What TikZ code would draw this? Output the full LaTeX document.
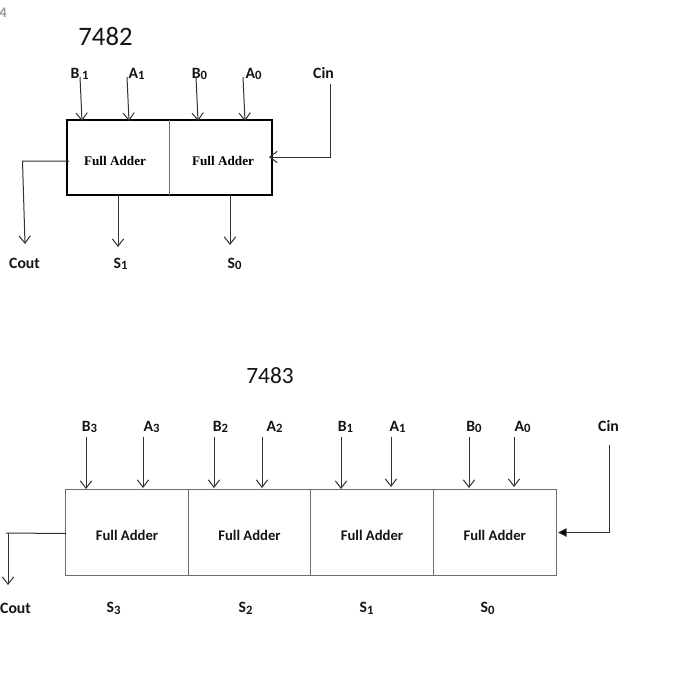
\documentclass[tikz,border=0pt]{standalone}
\usepackage{fontspec}
\setmainfont{Carlito}
\newfontfamily\serifbold{Liberation Serif}
\usetikzlibrary{arrows.meta}
\definecolor{edgegray}{RGB}{110,110,110}
\definecolor{wiregray}{RGB}{50,50,50}
\newcommand{\lowdig}[1]{\raisebox{-0.2ex}{\fontsize{9.5}{10}\selectfont #1}}
\tikzset{
  x=0.75pt,y=-0.75pt,
  lab/.style={inner sep=0pt,xshift=0.4pt,font=\fontsize{11.8}{13}\selectfont\bfseries,text=black!92},
  titlelab/.style={inner sep=0pt,text=black!92},
  oldbox/.style={draw=black,line width=1.5pt,minimum height=56.25pt,minimum width=153.75pt,inner sep=0pt,outer sep=0pt},
  oldtext/.style={inner sep=0pt,font=\serifbold\fontsize{9.9}{12}\selectfont\bfseries},
  newcell/.style={draw=edgegray,line width=0.75pt,minimum height=64.9pt,minimum width=92pt,inner sep=0pt,outer sep=0pt},
  newtext/.style={inner sep=0pt,yshift=-1.9pt,font=\fontsize{11}{13}\selectfont\bfseries,text=black!92},
  wire/.style={draw=wiregray,line width=0.75pt,-{Straight Barb[length=5.5pt,width=8.5pt,line width=0.75pt]}},
  solidwire/.style={draw=wiregray,line width=0.75pt,-{Triangle[length=6.5pt,width=6.5pt,fill=black]}},
  plainwire/.style={draw=wiregray,line width=0.75pt},
}
\begin{document}
\begin{tikzpicture}
\useasboundingbox (0,0) rectangle (678,700);
\fill[white] (0,0) rectangle (678,700);
\node[inner sep=0pt,text=black!40,font=\fontsize{11}{13}\selectfont\bfseries] (pg) at (3,13) {4};
% ---- 7482
\node[titlelab,font=\fontsize{20}{22}\selectfont] (t1) at (105.5,36.3) {7482};
\node[oldbox] (box) at (169.75,157.75) {};
\draw[edgegray,line width=0.75pt] (box.north) -- (box.south);
\node[oldtext] (fa1) at (115,160.5) {Full Adder};
\node[oldtext] (fa0) at (223,160.5) {Full Adder};
\node[lab] (b1) at (79,74) {B\,\lowdig{1}};
\node[lab] (a1) at (136,74) {A\lowdig{1}};
\node[lab] (b0) at (199,74) {B\lowdig{0}};
\node[lab] (a0) at (253,74) {A\lowdig{0}};
\node[lab] (cin) at (323,73) {Cin};
\node[lab] (cout) at (24,263.5) {Cout};
\node[lab] (s1) at (120,264) {S\lowdig{1}};
\node[lab] (s0) at (234,264) {S\lowdig{0}};
\coordinate (b1s) at (80,77); \coordinate (b1e) at (82,121);
\coordinate (a1s) at (127,77); \coordinate (a1e) at (129,121);
\coordinate (b0s) at (196,77); \coordinate (b0e) at (198,121);
\coordinate (a0s) at (243,77); \coordinate (a0e) at (245,121);
\draw[wire] (b1s) -- (b1e);
\draw[wire] (a1s) -- (a1e);
\draw[wire] (b0s) -- (b0e);
\draw[wire] (a0s) -- (a0e);
\coordinate (cinS) at (330,84); \coordinate (cinC) at (330,157); \coordinate (cinE) at (269,157);
\draw[wire] (cinS) -- (cinC) -- (cinE);
\coordinate (coS) at (69,161); \coordinate (coC) at (22.5,161); \coordinate (coE) at (25,244);
\draw[wire] (coS) -- (coC) -- (coE);
\coordinate (s1s) at (118,195); \coordinate (s1e) at (118,247);
\coordinate (s0s) at (230,195); \coordinate (s0e) at (230,245);
\draw[wire] (s1s) -- (s1e);
\draw[wire] (s0s) -- (s0e);
% ---- 7483
\node[titlelab,font=\fontsize{17.5}{20}\selectfont] (t2) at (270,375.7) {7483};
\node[newcell,label={[newtext]center:Full Adder}] (g3) at (127,532.7) {};
\node[newcell,label={[newtext]center:Full Adder}] (g2) at (249.5,532.7) {};
\node[newcell,label={[newtext]center:Full Adder}] (g1) at (372,532.7) {};
\node[newcell,label={[newtext]center:Full Adder}] (g0) at (494.7,532.7) {};
\node[lab] (lb3) at (89,427) {B\lowdig{3}};
\node[lab] (la3) at (151,427) {A\lowdig{3}};
\node[lab] (lb2) at (220,427) {B\lowdig{2}};
\node[lab] (la2) at (274,427) {A\lowdig{2}};
\node[lab] (lb1) at (345,427) {B\lowdig{1}};
\node[lab] (la1) at (397,427) {A\lowdig{1}};
\node[lab] (lb0) at (473.5,427) {B\lowdig{0}};
\node[lab] (la0) at (522,427) {A\lowdig{0}};
\node[lab] (lcin) at (608,426) {Cin};
\node[lab] (lcout) at (15,608) {Cout};
\node[lab] (ls3) at (113,608.5) {S\lowdig{3}};
\node[lab] (ls2) at (245,608.5) {S\lowdig{2}};
\node[lab] (ls1) at (366,608.5) {S\lowdig{1}};
\node[lab] (ls0) at (487,608.5) {S\lowdig{0}};
\coordinate (w1) at (86,437); \coordinate (w1e) at (86,489);
\coordinate (w2) at (143,437); \coordinate (w2e) at (143,488);
\coordinate (w3) at (214,437); \coordinate (w3e) at (214,488);
\coordinate (w4) at (262,437); \coordinate (w4e) at (262,488);
\coordinate (w5) at (341,437); \coordinate (w5e) at (341,489);
\coordinate (w6) at (391,437); \coordinate (w6e) at (391,487);
\coordinate (w7) at (469,437); \coordinate (w7e) at (469,488);
\coordinate (w8) at (514,437); \coordinate (w8e) at (514,487);
\foreach \k in {1,...,8} \draw[wire] (w\k) -- (w\k e);
\coordinate (cS) at (609,445); \coordinate (cC) at (609,532.5); \coordinate (cE) at (558,532.5);
\draw[solidwire] (cS) -- (cC) -- (cE);
\coordinate (oS) at (66,533.5); \coordinate (oL) at (6,533); \coordinate (oC) at (8,533); \coordinate (oE) at (8,585);
\draw[plainwire] (oS) -- (oL);
\draw[wire] (oC) -- (oE);
\end{tikzpicture}
\end{document}
